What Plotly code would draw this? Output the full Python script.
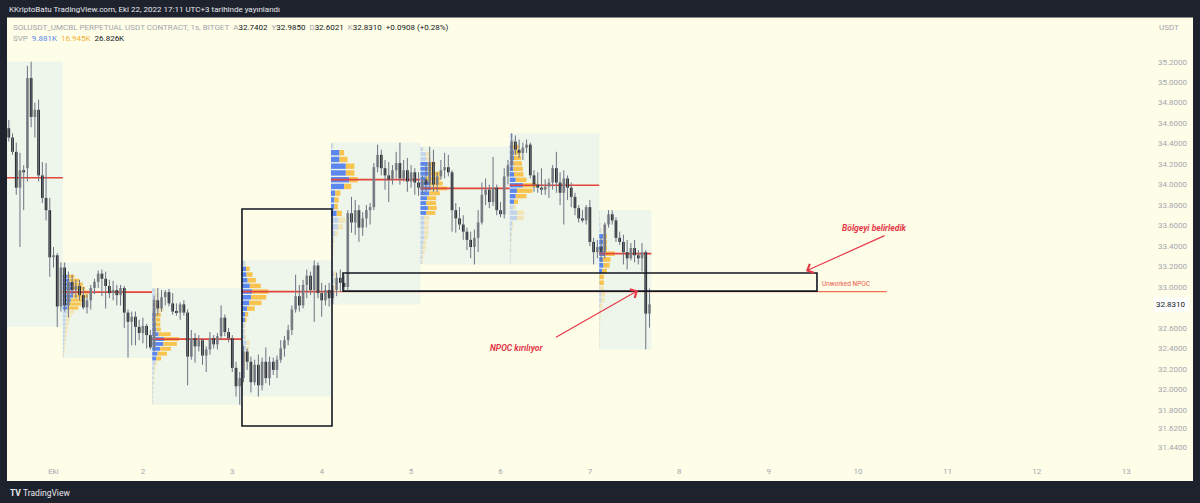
import numpy as np
import pandas as pd
import plotly.graph_objects as go

# ---------------------------------------------------------------------------
# SOLUSDT_UMCBL perpetual (Bitget), 1-hour bars, local time UTC+3
# ---------------------------------------------------------------------------
FIRST_BAR = "2022-09-30 12:00"

OPEN = [
    34.55, 34.46, 34.32, 33.97, 34.14, 34.16, 35.04, 34.66, 34.73, 34.09, 33.87, 33.75, 33.29, 33.31, 32.81,
    33.19, 32.82, 33.05, 32.97, 33.01, 32.92, 32.80, 32.87, 32.99, 33.05, 33.13, 33.08, 33.01, 32.94, 32.97, 32.92,
    32.99, 32.75, 32.66, 32.71, 32.61, 32.55, 32.62, 32.53,
    32.41, 32.87, 32.79, 32.90, 32.95, 32.84, 32.76, 32.75, 32.83, 32.75, 32.32, 32.50, 32.42, 32.48, 32.33, 32.39,
    32.50, 32.44, 32.52, 32.70, 32.56, 32.50, 32.21, 32.03,
    32.11, 32.37, 32.27, 32.07, 32.24, 32.04, 32.27, 32.11, 32.27, 32.19, 32.29, 32.40, 32.48, 32.58, 32.78, 32.91,
    32.82, 33.02, 33.11, 32.97, 33.21, 32.94, 32.87, 32.97,
    32.89, 32.97, 33.09, 33.04, 33.00, 33.72, 33.63, 33.75, 33.58, 33.67, 33.75, 33.78, 34.17, 34.29, 34.16, 34.09,
    34.05, 34.14, 34.21, 34.06, 34.14, 34.03, 34.12, 34.02,
    33.97, 34.05, 34.00, 34.22, 34.00, 34.08, 34.14, 34.17, 34.12, 33.75, 33.67, 33.61, 33.54, 33.46, 33.39, 33.48,
    33.63, 33.90, 33.95, 33.83, 33.97, 33.75, 33.71, 34.08,
    34.19, 34.42, 34.34, 34.31, 34.36, 34.39, 34.09, 34.00, 33.97, 33.95, 33.98, 34.02, 34.16, 34.02, 33.92, 34.06,
    33.97, 33.88, 33.77, 33.67, 33.65, 33.78, 33.44, 33.34,
    33.39, 33.34, 33.61, 33.71, 33.65, 33.48, 33.44, 33.34, 33.28, 33.38, 33.31, 33.28, 33.34, 32.7402,
]
HIGH = [
    34.63, 34.50, 34.41, 34.31, 34.19, 35.16, 35.20, 34.80, 34.83, 34.22, 34.21, 33.87, 33.39, 33.33, 33.24,
    33.24, 33.15, 33.12, 33.07, 33.07, 33.00, 32.93, 33.02, 33.08, 33.16, 33.17, 33.15, 33.07, 33.06, 33.02, 33.02,
    33.01, 32.78, 32.76, 32.76, 32.68, 32.70, 32.64, 32.58,
    32.91, 32.99, 32.97, 32.97, 32.98, 32.94, 32.84, 32.85, 32.87, 32.78, 32.58, 32.55, 32.53, 32.50, 32.42, 32.56,
    32.53, 32.55, 32.82, 32.73, 32.60, 32.53, 32.27, 32.17,
    32.43, 32.40, 32.32, 32.29, 32.34, 32.31, 32.41, 32.32, 32.31, 32.33, 32.48, 32.52, 32.63, 32.82, 33.12, 33.02,
    33.07, 33.17, 33.15, 33.26, 33.24, 33.04, 33.02, 33.04,
    33.02, 33.14, 33.17, 33.12, 33.75, 33.88, 33.85, 33.80, 33.73, 33.80, 33.82, 34.21, 34.39, 34.34, 34.24, 34.22,
    34.19, 34.32, 34.41, 34.24, 34.26, 34.19, 34.16, 34.12,
    34.09, 34.19, 34.37, 34.34, 34.12, 34.24, 34.31, 34.29, 34.14, 33.82, 33.78, 33.70, 33.58, 33.54, 33.56, 33.75,
    34.02, 34.06, 34.00, 34.27, 34.00, 33.83, 34.16, 34.24,
    34.50, 34.48, 34.44, 34.41, 34.44, 34.41, 34.14, 34.12, 34.16, 34.05, 34.06, 34.19, 34.32, 34.12, 34.14, 34.09,
    34.02, 33.92, 33.80, 33.75, 33.80, 33.85, 33.48, 33.46,
    33.48, 33.63, 33.75, 33.75, 33.68, 33.54, 33.51, 33.46, 33.43, 33.46, 33.36, 33.43, 33.36, 32.9850,
]
LOW = [
    34.42, 34.29, 33.90, 33.39, 33.75, 34.03, 34.56, 34.46, 34.03, 33.82, 33.65, 33.10, 33.19, 32.61, 32.76,
    32.76, 32.70, 32.92, 32.89, 32.87, 32.78, 32.74, 32.78, 32.93, 32.99, 32.91, 32.79, 32.89, 32.87, 32.82, 32.82,
    32.60, 32.31, 32.43, 32.43, 32.48, 32.45, 32.40, 32.39,
    32.37, 32.72, 32.76, 32.82, 32.81, 32.73, 32.72, 32.68, 32.72, 32.04, 32.29, 32.26, 32.37, 32.24, 32.17, 32.34,
    32.40, 32.39, 32.48, 32.52, 32.46, 32.17, 31.93, 31.85,
    32.07, 32.19, 31.97, 32.04, 31.93, 31.99, 32.06, 32.04, 32.14, 32.11, 32.26, 32.32, 32.43, 32.53, 32.75, 32.76,
    32.79, 32.89, 32.92, 32.66, 32.89, 32.71, 32.82, 32.81,
    32.83, 32.91, 32.95, 32.97, 32.97, 33.53, 33.51, 33.44, 33.50, 33.58, 33.61, 33.75, 34.12, 34.09, 33.95, 33.83,
    34.00, 34.06, 34.00, 34.03, 33.93, 33.97, 33.90, 33.89,
    33.90, 33.93, 33.95, 33.93, 33.93, 34.05, 34.06, 34.08, 33.54, 33.53, 33.56, 33.46, 33.36, 33.28, 33.22, 33.34,
    33.61, 33.80, 33.77, 33.79, 33.70, 33.68, 33.67, 34.00,
    34.14, 34.29, 34.26, 34.24, 34.31, 34.06, 33.93, 33.92, 33.90, 33.90, 33.87, 33.95, 33.92, 33.80, 33.61, 33.85,
    33.78, 33.70, 33.63, 33.63, 33.61, 33.40, 33.22, 33.28,
    33.24, 33.28, 33.58, 33.61, 33.44, 33.41, 33.22, 33.17, 33.26, 33.24, 33.22, 33.15, 32.39, 32.6021,
]
CLOSE = [
    34.46, 34.32, 33.97, 34.14, 34.12, 35.04, 34.66, 34.73, 34.09, 33.87, 33.75, 33.29, 33.31, 32.81, 33.19,
    32.82, 33.05, 32.97, 33.01, 32.92, 32.80, 32.87, 32.99, 33.05, 33.13, 33.08, 33.01, 32.94, 32.97, 32.92, 32.99,
    32.75, 32.66, 32.71, 32.61, 32.55, 32.62, 32.53, 32.41,
    32.87, 32.79, 32.90, 32.95, 32.84, 32.76, 32.75, 32.83, 32.75, 32.32, 32.50, 32.42, 32.48, 32.33, 32.39, 32.50,
    32.44, 32.52, 32.70, 32.56, 32.50, 32.21, 32.03, 32.11,
    32.37, 32.27, 32.07, 32.24, 32.04, 32.27, 32.11, 32.27, 32.19, 32.29, 32.40, 32.48, 32.58, 32.78, 32.91, 32.82,
    33.02, 33.11, 32.97, 33.21, 32.94, 32.87, 32.97, 32.89,
    32.97, 33.09, 33.04, 33.00, 33.72, 33.63, 33.75, 33.58, 33.67, 33.75, 33.78, 34.17, 34.29, 34.16, 34.09, 34.05,
    34.14, 34.21, 34.06, 34.14, 34.03, 34.12, 34.02, 33.97,
    34.05, 34.00, 34.22, 34.00, 34.08, 34.14, 34.17, 34.12, 33.75, 33.67, 33.61, 33.54, 33.46, 33.39, 33.48, 33.63,
    33.90, 33.95, 33.83, 33.97, 33.75, 33.71, 34.08, 34.19,
    34.42, 34.34, 34.31, 34.36, 34.39, 34.09, 34.00, 33.97, 33.95, 33.98, 34.02, 34.16, 34.02, 33.92, 34.06, 33.97,
    33.88, 33.77, 33.67, 33.65, 33.78, 33.44, 33.34, 33.39,
    33.34, 33.61, 33.71, 33.65, 33.48, 33.44, 33.34, 33.28, 33.38, 33.31, 33.28, 33.34, 32.7402, 32.8310,
]

# ---------------------------------------------------------------------------
# Session volume profile rows, bottom -> top (24 rows per session)
# ---------------------------------------------------------------------------
S1_UP = [5, 6, 8, 10, 12, 14, 16, 18, 20, 25, 30, 35, 40, 48, 40, 30, 25, 20, 15, 12, 10, 8, 6, 4]
S1_DN = [5, 6, 8, 10, 12, 15, 18, 20, 25, 30, 35, 40, 45, 55, 45, 35, 28, 22, 18, 14, 10, 8, 6, 4]
S2_UP = [2, 3, 4, 5, 6, 7, 8, 9, 10, 11, 12, 15, 18, 25, 30, 38, 43, 36, 32, 25, 18, 3, 2, 1]
S2_DN = [2, 3, 4, 5, 6, 7, 9, 10, 12, 15, 20, 28, 40, 43, 50, 55, 57, 47, 43, 36, 25, 4, 2, 1]
S3_UP = [2, 2, 3, 3, 4, 4, 5, 7, 10, 15, 20, 30, 42, 44, 24, 16, 14, 12, 14, 14, 10, 12, 12, 10]
S3_DN = [2, 2, 2, 3, 3, 4, 4, 5, 8, 18, 35, 40, 50, 56, 45, 16, 16, 18, 18, 28, 12, 10, 12, 6]
S4_UP = [2, 3, 4, 5, 6, 8, 10, 12, 16, 18, 12, 10, 10, 12, 14, 20, 28, 35, 38, 30, 22, 18, 16, 12]
S4_DN = [2, 2, 3, 4, 5, 6, 8, 10, 12, 12, 6, 4, 4, 6, 10, 28, 45, 55, 60, 40, 30, 22, 14, 2]
S5_UP = [2, 4, 8, 12, 10, 4, 4, 5, 6, 8, 14, 24, 26, 20, 12, 12, 15, 46, 64, 52, 52, 30, 30, 6]
S5_DN = [2, 3, 8, 10, 8, 3, 2, 3, 3, 4, 10, 18, 24, 18, 12, 15, 18, 25, 30, 30, 30, 28, 16, 2]
S6_UP = [3, 4, 5, 6, 8, 10, 10, 10, 10, 10, 16, 20, 16, 18, 24, 28, 24, 14, 22, 20, 20, 16, 14, 6]
S6_DN = [3, 4, 6, 8, 8, 10, 12, 12, 12, 14, 24, 24, 26, 24, 28, 44, 36, 40, 30, 16, 20, 12, 10, 2]
S7_UP = [2, 2, 3, 3, 4, 5, 6, 8, 24, 24, 12, 14, 20, 24, 44, 20, 14, 12, 13, 14, 14, 12, 12, 10]
S7_DN = [1, 1, 2, 2, 3, 3, 3, 4, 22, 24, 8, 14, 36, 52, 46, 36, 32, 32, 28, 24, 22, 18, 4, 0]
S8_UP = [38, 51, 63, 76, 89, 101, 127, 152, 455, 506, 101, 76, 76, 759, 1063, 911, 1417, 961, 1012, 1063,
         405, 202, 101, 76]
S8_DN = [54, 81, 108, 136, 163, 217, 325, 678, 813, 1030, 1084, 1084, 1084, 1139, 1518, 1898, 2443, 949, 895,
         813, 217, 108, 54, 54]

# ---------------------------------------------------------------------------
# Axis ticks
# ---------------------------------------------------------------------------
DAY_TICKS = ["2022-10-01", "2022-10-02", "2022-10-03", "2022-10-04", "2022-10-05", "2022-10-06", "2022-10-07",
             "2022-10-08", "2022-10-09", "2022-10-10", "2022-10-11", "2022-10-12", "2022-10-13"]
DAY_LABELS = ["Eki", "2", "3", "4", "5", "6", "7", "8", "9", "10", "11", "12", "13"]
PRICE_TICKS = [35.2, 35.0, 34.8, 34.6, 34.4, 34.2, 34.0, 33.8, 33.6, 33.4, 33.2, 33.0,
               32.6, 32.4, 32.2, 32.0, 31.8, 31.62, 31.44]

SYMBOL_TITLE = "SOLUSDT_UMCBL PERPETUAL USDT CONTRACT, 1s, BITGET"
PUBLISHED = "KKriptoBatu TradingView.com, Eki 22, 2022 17:11 UTC+3 tarihinde yayınlandı"

# hand-drawn marks
ZONE_A = dict(x0="2022-10-03 02:36", x1="2022-10-04 02:46", y0=31.642, y1=33.762)
ZONE_B = dict(x0="2022-10-04 05:43", x1="2022-10-09 12:58", y0=32.96, y1=33.137)
NPOC_END = "2022-10-10 07:40"
NOTE_ZONE = dict(text="Bölgeyi belirledik", x="2022-10-10 04:30", y=33.576,
                 tail=("2022-10-10 07:30", 33.508), head=("2022-10-09 10:00", 33.156))
NOTE_BREAK = dict(text="NPOC kırılıyor", x="2022-10-06 04:12", y=32.404,
                  tail=("2022-10-06 14:30", 32.50), head=("2022-10-07 12:54", 32.966))
NPOC_LABEL = dict(text="Unworked NPOC", x="2022-10-09 13:50", y=33.03)

# ---------------------------------------------------------------------------
# Styling
# ---------------------------------------------------------------------------
FRAME = "#1e222d"
PANEL = "#fdfde8"
SESSION_BOX = "#eef5ea"
AXIS_TEXT = "#a5a7ad"
DARK_TEXT = "#131722"
WICK = "#6c7486"
UP_BODY = "#858585"
DN_BODY = "#1f1f1f"
UP_VA, DN_VA = "#5b87ef", "#f8c44f"
UP_OUT, DN_OUT = "rgba(91,135,239,0.30)", "rgba(248,196,79,0.32)"
POC_RED = "#e2453c"
NPOC_LINE = "#ef7050"
NOTE_RED = "#e5394a"
FONT = "Roboto"

W, H = 1200, 503
ML, MR, MT, MB = 7, 52, 18, 43
PW, PH = W - ML - MR, H - MT - MB
X_RANGE = ["2022-09-30 11:31", "2022-10-13 05:50"]
Y_RANGE = [31.3104, 35.6268]

SESSION_ROLL = pd.Timedelta(hours=3)
HALF_BAR = pd.Timedelta(minutes=30)
PROFILE_WIDTH = 0.30
VALUE_AREA = 0.70
BODY_MS = 0.72 * 3600 * 1000


def fmt(t):
    return pd.Timestamp(t).strftime("%Y-%m-%d %H:%M:%S")


def paper_x(px):
    return (px - ML) / PW


def paper_y(py):
    return (H - MB - py) / PH


def value_area(tot, poc, share):
    lo = hi = poc
    acc = tot[poc]
    target = share * tot.sum()
    while acc < target and (lo > 0 or hi < len(tot) - 1):
        above = tot[hi + 1] if hi < len(tot) - 1 else -1
        below = tot[lo - 1] if lo > 0 else -1
        if above >= below:
            hi += 1
            acc += above
        else:
            lo -= 1
            acc += below
    return lo, hi


times = pd.date_range(FIRST_BAR, periods=len(OPEN), freq="h")
tstr = times.strftime("%Y-%m-%d %H:%M:%S").tolist()

fig = go.Figure()

# wicks
wx, wy = [], []
for t, hi_, lo_ in zip(tstr, HIGH, LOW):
    wx += [t, t, None]
    wy += [lo_, hi_, None]
fig.add_trace(go.Scatter(x=wx, y=wy, mode="lines", line=dict(color=WICK, width=1),
                         hoverinfo="skip", showlegend=False))

# bodies
o = np.array(OPEN)
c = np.array(CLOSE)
fig.add_trace(go.Bar(
    x=tstr, y=np.maximum(np.abs(c - o), 0.006), base=np.minimum(o, c), width=BODY_MS,
    marker=dict(color=np.where(c >= o, UP_BODY, DN_BODY).tolist(), line=dict(width=0)),
    hoverinfo="skip", showlegend=False))

# ---------------------------------------------------------------------------
# Session volume profiles
# ---------------------------------------------------------------------------
profiles = [(S1_UP, S1_DN), (S2_UP, S2_DN), (S3_UP, S3_DN), (S4_UP, S4_DN),
            (S5_UP, S5_DN), (S6_UP, S6_DN), (S7_UP, S7_DN), (S8_UP, S8_DN)]
session_day = (times - SESSION_ROLL).normalize()
days = session_day.unique()

shapes = [dict(type="rect", xref="paper", yref="paper", x0=0, x1=paper_x(1193),
               y0=paper_y(481), y1=paper_y(17.5), fillcolor=PANEL, line=dict(width=0), layer="below")]
poc_levels = []
session_ends = []
for day, (up, dn) in zip(days, profiles):
    idx = np.where(session_day == day)[0]
    start = day + SESSION_ROLL
    x0 = start - HALF_BAR
    x1 = min(start + pd.Timedelta(hours=24), times[idx[-1]] + pd.Timedelta(hours=1)) - HALF_BAR
    lo = min(LOW[i] for i in idx)
    hi = max(HIGH[i] for i in idx)
    shapes.append(dict(type="rect", xref="x", yref="y", x0=fmt(x0), x1=fmt(x1), y0=lo, y1=hi,
                       fillcolor=SESSION_BOX, line=dict(width=0), layer="below"))

    up = np.array(up, float)
    dn = np.array(dn, float)
    tot = up + dn
    poc = int(np.argmax(tot))
    va_lo, va_hi = value_area(tot, poc, VALUE_AREA)
    edges = np.linspace(lo, hi, len(tot) + 1)
    gap = 0.1 * (edges[1] - edges[0])
    span = (x1 - x0) * PROFILE_WIDTH
    for i in range(len(tot)):
        inside = va_lo <= i <= va_hi
        xa = x0 + span * (up[i] / tot.max())
        xb = x0 + span * (tot[i] / tot.max())
        yb, yt = edges[i] + gap, edges[i + 1] - gap
        if up[i] > 0:
            shapes.append(dict(type="rect", xref="x", yref="y", x0=fmt(x0), x1=fmt(xa), y0=yb, y1=yt,
                               fillcolor=UP_VA if inside else UP_OUT, line=dict(width=0), layer="below"))
        if dn[i] > 0:
            shapes.append(dict(type="rect", xref="x", yref="y", x0=fmt(xa), x1=fmt(xb), y0=yb, y1=yt,
                               fillcolor=DN_VA if inside else DN_OUT, line=dict(width=0), layer="below"))
    poc_y = 0.5 * (edges[poc] + edges[poc + 1])
    poc_levels.append(poc_y)
    session_ends.append(x1)
    shapes.append(dict(type="line", xref="x", yref="y", x0=fmt(x0), x1=fmt(x1), y0=poc_y, y1=poc_y,
                       line=dict(color=POC_RED, width=1.7), layer="below"))

# naked POC of the 3 Oct session, still open to the right
shapes.append(dict(type="line", xref="x", yref="y", x0=fmt(session_ends[3]), x1=NPOC_END,
                   y0=poc_levels[3], y1=poc_levels[3], line=dict(color=NPOC_LINE, width=1.3), layer="below"))

# drawn zones
for z in (ZONE_A, ZONE_B):
    shapes.append(dict(type="rect", xref="x", yref="y", **z, fillcolor="rgba(0,0,0,0)",
                       line=dict(color=DARK_TEXT, width=1.6), layer="above"))

# ---------------------------------------------------------------------------
# Texts
# ---------------------------------------------------------------------------
last_o, last_h, last_l, last_c = OPEN[-1], HIGH[-1], LOW[-1], CLOSE[-1]
chg = last_c - CLOSE[-2]
pct = chg / CLOSE[-2] * 100
G = f"color:{AXIS_TEXT}"
legend1 = (f"<span style='{G}'>{SYMBOL_TITLE}</span>&nbsp;&nbsp;"
           f"<span style='{G}'>A</span>{last_o:.4f}&nbsp;&nbsp;"
           f"<span style='{G}'>Y</span>{last_h:.4f}&nbsp;&nbsp;"
           f"<span style='{G}'>D</span>{last_l:.4f}&nbsp;&nbsp;"
           f"<span style='{G}'>K</span>{last_c:.4f}&nbsp;&nbsp;"
           f"{chg:+.4f} ({pct:+.2f}%)")
svp_up, svp_dn = sum(S8_UP), sum(S8_DN)
legend2 = (f"<span style='{G}'>SVP</span>&nbsp;&nbsp;"
           f"<span style='color:{UP_VA}'>{svp_up / 1000:.3f}K</span>&nbsp;&nbsp;"
           f"<span style='color:#f2b233'>{svp_dn / 1000:.3f}K</span>&nbsp;&nbsp;"
           f"{(svp_up + svp_dn) / 1000:.3f}K")

annotations = [
    dict(xref="paper", yref="paper", x=0, y=paper_y(9.5), xanchor="left", yanchor="middle",
         text=PUBLISHED, showarrow=False, font=dict(family=FONT, size=8, color="#e6e8ee")),
    dict(xref="paper", yref="paper", x=paper_x(11), y=paper_y(27), xanchor="left", yanchor="middle",
         text=legend1, showarrow=False, font=dict(family=FONT, size=8, color=DARK_TEXT)),
    dict(xref="paper", yref="paper", x=paper_x(11), y=paper_y(38.5), xanchor="left", yanchor="middle",
         text=legend2, showarrow=False, font=dict(family=FONT, size=8, color=DARK_TEXT)),
    dict(xref="paper", yref="paper", x=paper_x(1157), y=paper_y(27), xanchor="left", yanchor="middle",
         text="USDT", showarrow=False, font=dict(family=FONT, size=8, color=AXIS_TEXT)),
    dict(xref="paper", yref="y", x=paper_x(1153), y=last_c, xanchor="left", yanchor="middle",
         text=f"{last_c:.4f}", showarrow=False, bgcolor="#ffffff", borderpad=2,
         font=dict(family=FONT, size=8, color=DARK_TEXT)),
    dict(xref="paper", yref="paper", x=paper_x(8), y=paper_y(493), xanchor="left", yanchor="middle",
         text="<b>TV</b>&nbsp;TradingView", showarrow=False, font=dict(family=FONT, size=8.5, color="#e6e8ee")),
    dict(xref="x", yref="y", x=NPOC_LABEL["x"], y=NPOC_LABEL["y"], xanchor="left", yanchor="middle",
         text=NPOC_LABEL["text"], showarrow=False, font=dict(family=FONT, size=6.5, color="#ec5a4a")),
]
for note in (NOTE_ZONE, NOTE_BREAK):
    annotations.append(dict(xref="x", yref="y", x=note["x"], y=note["y"], xanchor="center", yanchor="middle",
                            text=f"<b><i>{note['text']}</i></b>", showarrow=False,
                            font=dict(family=FONT, size=8.5, color=NOTE_RED)))
    annotations.append(dict(xref="x", yref="y", axref="x", ayref="y",
                            x=note["head"][0], y=note["head"][1], ax=note["tail"][0], ay=note["tail"][1],
                            text="", showarrow=True, arrowhead=4, arrowsize=1.6, arrowwidth=1.2,
                            arrowcolor=NOTE_RED, standoff=0, startstandoff=0))

fig.update_layout(
    width=W, height=H, margin=dict(l=ML, r=MR, t=MT, b=MB, pad=0),
    paper_bgcolor=FRAME, plot_bgcolor=PANEL, showlegend=False,
    font=dict(family=FONT, size=8, color=AXIS_TEXT),
    xaxis=dict(type="date", range=X_RANGE, tickvals=DAY_TICKS, ticktext=DAY_LABELS,
               showgrid=False, zeroline=False, showline=False, ticks="",
               tickfont=dict(family=FONT, size=8, color=AXIS_TEXT), ticklabelstandoff=5, fixedrange=True),
    yaxis=dict(side="right", range=Y_RANGE, tickvals=PRICE_TICKS, ticktext=[f"{v:.4f}" for v in PRICE_TICKS],
               showgrid=False, zeroline=False, showline=False, ticks="",
               tickfont=dict(family=FONT, size=8, color=AXIS_TEXT), ticklabelstandoff=9, fixedrange=True),
    shapes=shapes,
    annotations=annotations,
)

fig.write_html("out.html", config={"displayModeBar": False})
